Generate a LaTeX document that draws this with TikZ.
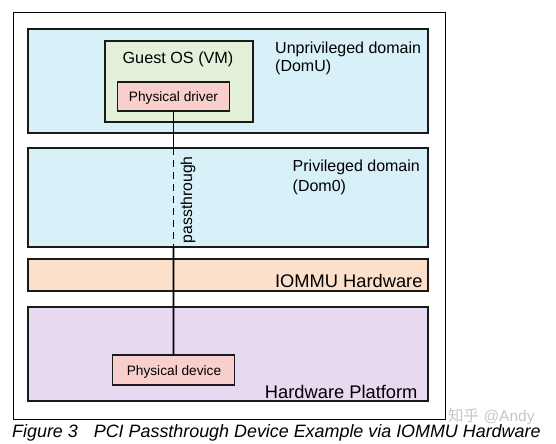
\documentclass[tikz,border=0pt]{standalone}
\usepackage{fontspec}
\setmainfont{Liberation Sans}
\newfontfamily\cjkfont{Noto Sans CJK SC}
\definecolor{domblue}{HTML}{D8F1F9}
\definecolor{guestgreen}{HTML}{E4F1DA}
\definecolor{drvpink}{HTML}{F8CFCC}
\definecolor{iompeach}{HTML}{FDE0CC}
\definecolor{hwlav}{HTML}{E6D9F0}
\definecolor{framegray}{HTML}{1A1A1A}
\begin{document}
\begin{tikzpicture}[x=1bp,y=-1bp,
  layer/.style={draw=framegray,line width=1.8bp,rectangle,inner sep=0pt,outer sep=0pt,anchor=north west},
  lbl/.style={inner sep=0pt,font=\fontsize{16bp}{19bp}\selectfont},
  biglbl/.style={inner sep=0pt,font=\fontsize{18.3bp}{21bp}\selectfont},
  smlbl/.style={inner sep=0pt,font=\fontsize{13.7bp}{16bp}\selectfont},
  link/.style={line width=1.8bp,draw=black}]
\useasboundingbox (0,0) rectangle (556,444);
\fill[white] (0,0) rectangle (556,444);
% outer frame
\node[draw=black,line width=1bp,rectangle,inner sep=0pt,anchor=north west,minimum width=432bp,minimum height=407bp] (frame) at (12.8,12.3) {};
% layers
\node[layer,fill=domblue,minimum width=400bp,minimum height=103.7bp] (domu) at (27.7,29) {};
\node[layer,fill=guestgreen,minimum width=148bp,minimum height=81.3bp] (guest) at (105,41) {};
\node[layer,fill=drvpink,minimum width=112bp,minimum height=29bp] (driver) at (117.5,82) {};
\node[layer,fill=domblue,minimum width=400bp,minimum height=98.4bp] (dom0) at (27.7,148.3) {};
\node[layer,fill=iompeach,minimum width=400bp,minimum height=31.7bp] (iommu) at (27.7,259) {};
\node[layer,fill=hwlav,minimum width=400bp,minimum height=93.4bp] (hw) at (27.7,307.3) {};
\node[layer,fill=drvpink,minimum width=122bp,minimum height=29.7bp] (device) at (112.5,355) {};
% texts
\node[lbl,anchor=base,font=\fontsize{16.2bp}{19bp}\selectfont] (guesttxt) at (178,63.3) {Guest OS (VM)};
\node[smlbl,anchor=base] (drvtxt) at (173.5,101.7) {Physical driver};
\node[lbl,anchor=base west] (domutxt) at (275,53.3) {Unprivileged domain};
\node[lbl,anchor=base west] (domutxt2) at (275,71.7) {(DomU)};
\node[lbl,anchor=base west] (dom0txt) at (292.5,172) {Privileged domain};
\node[lbl,anchor=base west] (dom0txt2) at (292.5,192) {(Dom0)};
\node[biglbl,anchor=base east] (iomtxt) at (422.7,287.7) {IOMMU Hardware};
\node[biglbl,anchor=base east] (hwtxt) at (417.7,398.3) {Hardware Platform};
\node[smlbl,anchor=base] (devtxt) at (174,375) {Physical device};
% connector
\coordinate (c1) at (driver.south |- dom0.north);
\coordinate (c2) at (driver.south |- dom0.south);
\draw[link] (driver.south) -- (c1);
\draw[link,dash pattern=on 7bp off 5bp] (c1) -- (c2);
\draw[link] (c2) -- (device.north);
\node[inner sep=0pt,rotate=90,anchor=center,font=\fontsize{15.8bp}{19bp}\selectfont] (pass) at (188,199.7) {passthrough};
% watermark and caption
\node[inner sep=0pt,anchor=base west,text=black!22,font=\fontsize{15.5bp}{18bp}\selectfont] (wm) at (448,421) {{\cjkfont 知乎} @Andy};
\node[inner sep=0pt,anchor=base west,font=\fontsize{17.9bp}{21bp}\selectfont\itshape] (cap) at (12,437) {Figure 3\hspace{16bp}PCI Passthrough Device Example via IOMMU Hardware};
\end{tikzpicture}
\end{document}
